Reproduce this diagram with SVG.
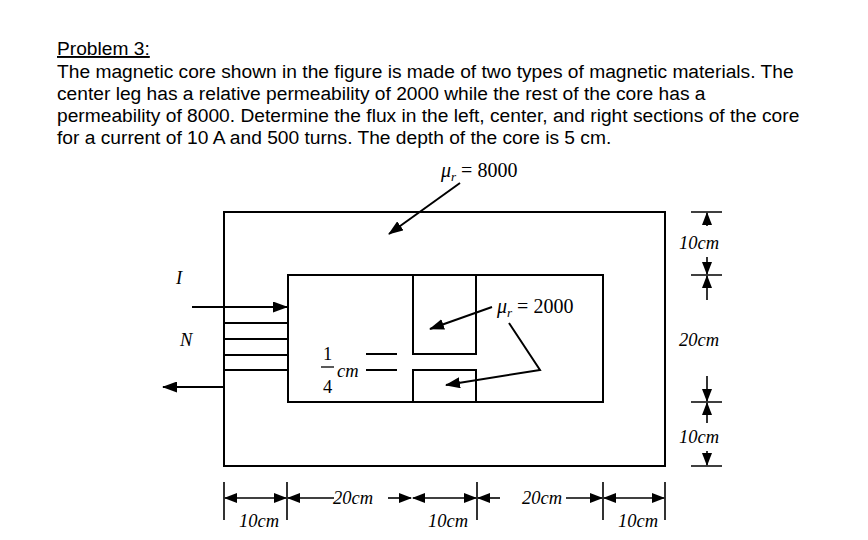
<svg xmlns="http://www.w3.org/2000/svg" width="868" height="540" viewBox="0 0 868 540">
<style>
.t{font-family:"Liberation Sans",Arial,sans-serif;font-size:19.2px;fill:#000}
.m{font-family:"Liberation Serif","DejaVu Serif","Times New Roman",serif;font-size:18.5px;fill:#000}
.u{font-size:20px}
.i{font-style:italic}
.l{stroke:#000;stroke-width:2;fill:none}
.d{stroke:#000;stroke-width:1.6;fill:none}
</style>
<defs>
<marker id="a" markerWidth="13" markerHeight="10" refX="12" refY="5" orient="auto" markerUnits="userSpaceOnUse"><path d="M0,0L13,5L0,10z" fill="#000"/></marker>
<marker id="b" markerWidth="15" markerHeight="11" refX="14" refY="5.5" orient="auto" markerUnits="userSpaceOnUse"><path d="M0,0L15,5.5L0,11z" fill="#000"/></marker>
<marker id="s" markerWidth="13" markerHeight="10" refX="1" refY="5" orient="auto" markerUnits="userSpaceOnUse"><path d="M13,0L0,5L13,10z" fill="#000"/></marker>
</defs>
<g id="problem">
<text class="t" x="57" y="55" text-decoration="underline">Problem 3:</text>
<text class="t" x="57" y="78">The magnetic core shown in the figure is made of two types of magnetic materials. The</text>
<text class="t" x="57" y="100">center leg has a relative permeability of 2000 while the rest of the core has a</text>
<text class="t" x="57" y="122">permeability of 8000. Determine the flux in the left, center, and right sections of the core</text>
<text class="t" x="57" y="144">for a current of 10 A and 500 turns. The depth of the core is 5 cm.</text>
</g>
<g id="core">
<rect class="l" x="224" y="212" width="441" height="254"/>
<rect class="l" x="288" y="275" width="315" height="127"/>
<path class="l" d="M413,275V354H476V275M413,402V370H476V402"/>
</g>
<g id="coil">
<path class="l" d="M224,323H288M224,339H288M224,355H288M224,370H288"/>
<text class="m i" x="176" y="284">I</text>
<text class="m i" x="180" y="346">N</text>
</g>
<g id="gap">
<text class="m" x="323" y="360">1</text>
<line x1="321" y1="367" x2="334" y2="367" stroke="#000" stroke-width="1.3"/>
<text class="m" x="323" y="393">4</text>
<text class="m i" x="337" y="377">cm</text>
<path class="l" d="M366,354H397M366,370H397"/>
</g>
<g id="labels">
<text class="m u" x="441" y="177"><tspan class="i">μ</tspan><tspan font-size="13" dy="4" class="i">r</tspan><tspan dy="-4"> = 8000</tspan></text>
<text class="m u" x="497" y="313"><tspan class="i">μ</tspan><tspan font-size="13" dy="4" class="i">r</tspan><tspan dy="-4"> = 2000</tspan></text>
</g>
<g id="connectors">
<line class="l" x1="192" y1="307" x2="287" y2="307" marker-end="url(#b)"/>
<line class="l" x1="224" y1="387" x2="163" y2="387" marker-end="url(#b)"/>
<line class="l" x1="460" y1="183" x2="389" y2="234" marker-end="url(#b)"/>
<line class="l" x1="492" y1="307" x2="430" y2="329" marker-end="url(#b)"/>
<polyline class="l" points="509,323 540,370 446,385" marker-end="url(#b)"/>
</g>
<g id="dimensions">
<path class="d" d="M224,482V520M287,482V520M477,482V520M603,482V520M665,482V520"/>
<line class="d" x1="225" y1="498" x2="286" y2="498" marker-start="url(#s)" marker-end="url(#a)"/>
<line class="d" x1="288" y1="498" x2="334" y2="498" marker-start="url(#s)"/>
<text class="m i" x="333" y="504">20cm</text>
<line class="d" x1="388" y1="498" x2="411" y2="498" marker-end="url(#a)"/>
<line class="d" x1="413" y1="498" x2="476" y2="498" marker-start="url(#s)" marker-end="url(#a)"/>
<line class="d" x1="478" y1="498" x2="500" y2="498" marker-start="url(#s)"/>
<text class="m i" x="522" y="504">20cm</text>
<line class="d" x1="566" y1="498" x2="602" y2="498" marker-end="url(#a)"/>
<line class="d" x1="604" y1="498" x2="664" y2="498" marker-start="url(#s)" marker-end="url(#a)"/>
<text class="m i" x="239" y="527">10cm</text>
<text class="m i" x="428" y="527">10cm</text>
<text class="m i" x="618" y="527">10cm</text>
<path class="d" d="M691,212H722M691,275H722M691,402H722M691,466H722"/>
<line class="d" x1="707" y1="226" x2="707" y2="213" marker-end="url(#a)"/>
<text class="m i" x="679" y="249">10cm</text>
<line class="d" x1="707" y1="257" x2="707" y2="274" marker-end="url(#a)"/>
<line class="d" x1="707" y1="300" x2="707" y2="276" marker-end="url(#a)"/>
<text class="m i" x="679" y="346">20cm</text>
<line class="d" x1="707" y1="376" x2="707" y2="401" marker-end="url(#a)"/>
<line class="d" x1="707" y1="423" x2="707" y2="403" marker-end="url(#a)"/>
<text class="m i" x="679" y="443">10cm</text>
<line class="d" x1="707" y1="451" x2="707" y2="465" marker-end="url(#a)"/>
</g>
</svg>
